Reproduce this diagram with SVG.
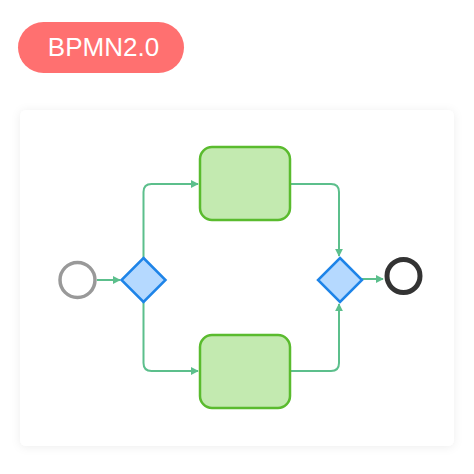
<svg xmlns="http://www.w3.org/2000/svg" width="474" height="474" viewBox="0 0 474 474">
<defs>
<filter id="sh" x="-10%" y="-10%" width="120%" height="120%">
<feDropShadow dx="0" dy="1" stdDeviation="5" flood-color="#000" flood-opacity="0.07"/>
</filter>
<marker id="arr" viewBox="0 0 10 10" refX="9" refY="5" markerWidth="4" markerHeight="4" orient="auto" markerUnits="strokeWidth">
<path d="M0,0 L10,5 L0,10 z" fill="#5cbf8c"/>
</marker>
<style>
.task{fill:#c3eab0;stroke:#5abb2e;stroke-width:2.5}
.gw{fill:#b5d9ff;stroke:#1e84e8;stroke-width:2.5;stroke-linejoin:miter}
.conn{fill:none;stroke:#5cbf8c;stroke-width:2;marker-end:url(#arr)}
</style>
</defs>
<rect width="474" height="474" fill="#ffffff"/>
<g id="title">
<rect x="18" y="22" width="166" height="51" rx="25.5" fill="#ff7070"/>
<text x="103.5" y="56" font-family="Liberation Sans, Arial, sans-serif" font-size="26" fill="#ffffff" text-anchor="middle">BPMN2.0</text>
</g>
<rect id="card" x="20" y="110" width="434" height="336" rx="6" fill="#ffffff" filter="url(#sh)"/>
<g id="connectors">
<path class="conn" d="M97,280 H120"/>
<path class="conn" d="M143.5,258 V192 Q143.5,184 151.5,184 H198"/>
<path class="conn" d="M143.5,302 V363 Q143.5,371 151.5,371 H198"/>
<path class="conn" d="M291,184 H331 Q339,184 339,192 V256"/>
<path class="conn" d="M291,371 H331 Q339,371 339,363 V304"/>
<path class="conn" d="M362,279 H383"/>
</g>
<g id="start"><circle cx="77.5" cy="280" r="17.5" fill="#ffffff" stroke="#999999" stroke-width="3.5"/></g>
<g id="split"><path class="gw" d="M143.5,258 L165.5,280 L143.5,302 L121.5,280 Z"/></g>
<g id="task1"><rect class="task" x="200" y="147" width="90" height="73" rx="12"/></g>
<g id="task2"><rect class="task" x="200" y="335" width="90" height="73" rx="12"/></g>
<g id="join"><path class="gw" d="M340,258 L362,280 L340,302 L318,280 Z"/></g>
<g id="end"><circle cx="403.5" cy="276" r="16.5" fill="#ffffff" stroke="#333333" stroke-width="5"/></g>
</svg>
